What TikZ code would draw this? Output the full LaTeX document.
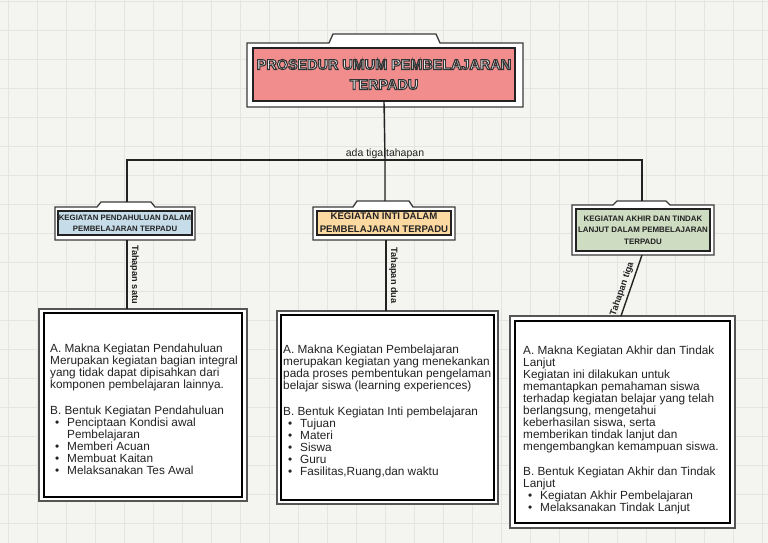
\documentclass[tikz,border=0pt]{standalone}
\usepackage{fontspec}
\setmainfont{Liberation Sans}
\usetikzlibrary{calc}
\definecolor{bg}{HTML}{F4F4F1}
\definecolor{gridc}{HTML}{E4E4E1}
\definecolor{ink}{HTML}{222222}
\definecolor{framec}{HTML}{3A3A3A}
\definecolor{bframec}{HTML}{555555}
\definecolor{pinkf}{HTML}{F28D8D}
\definecolor{bluef}{HTML}{C6DCE8}
\definecolor{orangef}{HTML}{FDD9A2}
\definecolor{greenf}{HTML}{CEDCC2}
\newcommand\bul{\hspace*{5pt}\makebox[12pt][l]{•}}
% white letters with a dark outline (fill + stroke text render mode)
\newcommand\olt[1]{\textcolor{white}{\special{pdf:literal direct 2 Tr 1.1 w 0.2 0.2 0.2 RG}#1\special{pdf:literal direct 0 Tr}}}
\newcommand\tabframe[7]{%
 \draw[outframe] (#1,#4) -- (#1,#2) -- (#5,#2) -- ({#5+4},#7) -- ({#6-4},#7) -- (#6,#2) -- (#3,#2) -- (#3,#4) -- cycle;}
\begin{document}
\begin{tikzpicture}[x=1pt,y=-1pt,
  gridline/.style={draw=gridc, line width=0.6pt},
  conn/.style={draw=ink, line width=1.4pt},
  outframe/.style={draw=framec, line width=1.3pt, fill=white},
  hdr/.style={draw=ink, line width=1.5pt, inner sep=0pt, align=center, text=ink},
  bframe/.style={draw=bframec, line width=1.2pt, fill=white},
  bodybox/.style={draw=black, line width=1.8pt, fill=white, inner sep=0pt},
  bodytext/.style={anchor=north west, inner sep=0pt, align=left, text=ink, font=\fontsize{11.8}{12}\selectfont},
  lbl/.style={font=\fontsize{10.5}{12}\selectfont, text=ink, inner sep=1pt},
  stage/.style={font=\bfseries\fontsize{9.2}{11}\selectfont, text=ink, inner sep=2.5pt}]
\useasboundingbox (0,0) rectangle (768,543);
\fill[bg] (0,0) rectangle (768,543);
\foreach \i in {0,...,26} \draw[gridline] ({8+29*\i},0) -- ({8+29*\i},543);
\foreach \j in {0,...,18} \draw[gridline] (0,{1+29*\j}) -- (768,{1+29*\j});

% title
\tabframe{247}{43}{523}{107}{329}{440}{34}
\node[hdr, fill=pinkf, minimum width=262pt, minimum height=53pt,
  font=\bfseries\fontsize{14.4}{20}\selectfont] (title) at (384,74.5)
  {\olt{PROSEDUR UMUM PEMBELAJARAN}\\\olt{TERPADU}};

% headers
\tabframe{55}{207}{195}{240}{97}{155}{202}
\node[hdr, fill=bluef, minimum width=134pt, minimum height=24pt,
  font=\bfseries\fontsize{7.8}{11}\selectfont] (hL) at (125,223)
  {KEGIATAN PENDAHULUAN DALAM\\PEMBELAJARAN TERPADU};
\tabframe{313}{207}{455}{240}{353}{413}{201}
\node[hdr, fill=orangef, minimum width=134pt, minimum height=24pt,
  font=\bfseries\fontsize{9.6}{13}\selectfont] (hC) at (384,223)
  {KEGIATAN INTI DALAM\\PEMBELAJARAN TERPADU};
\tabframe{572}{205}{714}{255}{613}{670}{201}
\node[hdr, fill=greenf, minimum width=134pt, minimum height=42pt,
  font=\bfseries\fontsize{7.9}{11.5}\selectfont] (hR) at (643,230)
  {KEGIATAN AKHIR DAN TINDAK\\LANJUT DALAM PEMBELAJARAN\\TERPADU};

% body boxes
\draw[bframe] (39,309) rectangle (247,501);
\node[bodybox, minimum width=198pt, minimum height=184pt] (bL) at (143,405) {};
\draw[bframe] (277,311) rectangle (498,504);
\node[bodybox, minimum width=213pt, minimum height=185pt] (bC) at (387.5,407.5) {};
\draw[bframe] (510,316) rectangle (735,528);
\node[bodybox, minimum width=215pt, minimum height=202pt] (bR) at (622.5,422) {};

\node[bodytext] (tL) at (50,344) {A. Makna Kegiatan Pendahuluan\\
Merupakan kegiatan bagian integral\\
yang tidak dapat dipisahkan dari\\
komponen pembelajaran lainnya.\\[14pt]
B. Bentuk Kegiatan Pendahuluan\\
\bul Penciptaan Kondisi awal\\
\hspace*{17pt}Pembelajaran\\
\bul Memberi Acuan\\
\bul Membuat Kaitan\\
\bul Melaksanakan Tes Awal};

\node[bodytext] (tC) at (283,345) {A. Makna Kegiatan Pembelajaran\\
merupakan kegiatan yang menekankan\\
pada proses pembentukan pengelaman\\
belajar siswa (learning experiences)\\[14pt]
B. Bentuk Kegiatan Inti pembelajaran\\
\bul Tujuan\\
\bul Materi\\
\bul Siswa\\
\bul Guru\\
\bul Fasilitas,Ruang,dan waktu};

\node[bodytext] (tR) at (523,345.5) {A. Makna Kegiatan Akhir dan Tindak\\
Lanjut\\
Kegiatan ini dilakukan untuk\\
memantapkan pemahaman siswa\\
terhadap kegiatan belajar yang telah\\
berlangsung, mengetahui\\
keberhasilan siswa, serta\\
memberikan tindak lanjut dan\\
mengembangkan kemampuan siswa.\\[13pt]
B. Bentuk Kegiatan Akhir dan Tindak\\
Lanjut\\
\bul Kegiatan Akhir Pembelajaran\\
\bul Melaksanakan Tindak Lanjut};

% connection points
\coordinate (hub) at (385,160);
\coordinate (pL) at (127,202);
\coordinate (pC) at (385,201);
\coordinate (pR) at (642,201);
\coordinate (fL) at (127,240);
\coordinate (fC) at (386,240);
\coordinate (fR) at (642,255);
\coordinate (qL) at (127,309);
\coordinate (qC) at (386,311);
\coordinate (qR) at (621,316);

% connectors
\draw[conn] (title.south) -- (hub) -- (pC);
\draw[conn] (pL) |- (hub) -| (pR);
\node[lbl, anchor=south] (ada) at ($(hub)+(0,-0.5)$) {ada tiga tahapan};
\draw[conn] (fL) -- node[stage, rotate=-90, anchor=south] (s1) {Tahapan satu} (qL);
\draw[conn] (fC) -- node[stage, rotate=-90, anchor=south] (s2) {Tahapan dua} (qC);
\draw[conn] (fR) -- node[stage, sloped, above, pos=0.6] (s3) {Tahapan tiga} (qR);
\end{tikzpicture}
\end{document}
